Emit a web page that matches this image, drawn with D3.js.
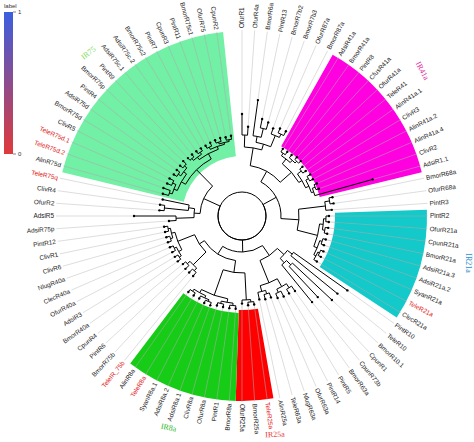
<!DOCTYPE html>
<html><head><meta charset="utf-8">
<script src="https://cdn.jsdelivr.net/npm/d3@7"></script>
<style>body{margin:0;background:#fff}</style></head>
<body><svg id="c" width="474" height="442"></svg>
<script>
// Tree topology (Newick, branch lengths read approx from picture)
const TOP = "((OfurR1:35,OfurR4a:14):20,((BmorR6a:60,(PintR13:15,BmorR7b2:12):15):10,(BmorR7b3:10,(OfurR87a:8,BmorR87a:8):6):20):10)";
const IR41A = "(((AdsiR41a:6,BmorR41a:6):5,(PintR8:6,(CfusR41a:5,OfurR41a:5):4):5):10,((TeleR41:6,AlinR41a.1:6):8,((ClivR3:6,AlinR41a.2:6):5,((AlinR41a.4:5,ClivR2:5):5,AdsiR1.1:100):4):6):6)";
const G21 = "((BmorR68a:6,OfurR68a:6):8,PintR3:10)";
const IR21A = "(((PintR2:5,OfurR21a:5):4,(CpunR21a:5,BmorR21a:5):4):6,((AdsiR21a.3:5,AdsiR21a.2:5):4,((SyanR21a:5,TeleR21a:5):3,ClecR21a:6):4):6)";
const LONG = "((PintR10:110,TeleR10:100):10,((BmorR10.1:90,CpunR1:70):10,CpunR73b:80):10)";
const IR63 = "(((BmorR63a:10,PintR5:8):8,(PintR14:10,OfurR63a:8):6):15,((NlugR63a:8,TeleR63a:8):6,AlinR25a:12):10)";
const IR25A = "((TeleR25a:5,BmorR25a:5):4,OfurR25a:6)";
const IR8A = "(((BmorR8a:5,PintR1:5):4,(OfurR8a:5,ClivR8a:5):4):6,(((AdsiR8a.1:5,AdsiR8a.2:5):3,SyanR8a.1:5):4,(TeleR8a:5,AlinR8a:5):4):6)";
const G40 = "(((TeleIR_75b:8,BmorR75b:8):6,(PintR6:8,CpunR4:6):6):30,(((BmorR40a:6,AdsiR3:6):4,(OfurR40a:6,ClecR40a:6):4):6,((NlugR40a:6,ClivR6:6):4,(ClivR1:6,PintR12:6):4):6):30)";
const G5 = "(AdsiR75p:12,AdsiR5:70)";
const G2 = "((OfurR2:8,ClivR4:8):40,TeleR75q:45)";
const IR75 = "((((AlinR75d:10,TeleR75d.2:12):5,(TeleR75d.1:8,ClivR5:8):6):6,((BmorR75d:6,AdsiR75d:6):5,(PintR4:6,BmorR75p:7):5):6):8,(((PintR9:5,AdsiR75c.1:5):4,(AdsiR75c.2:5,BmorR75c2:5):4):5,((PintR7:5,CpunR3:6):4,((PintR11:5,BmorR75c1:6):3,(OfurR75:5,CpunR2:6):3):3):5):10)";
const NEWICK = `(((${TOP}:30,${IR41A}:25):20,(${G21}:45,${IR21A}:35):30):25,((${LONG}:15,${IR63}:40):20,((${IR25A}:45,${IR8A}:45):20,${G40}:10):15):20,((${G5}:30,${G2}:10):10,${IR75}:38):30)`;

const redLabels = ["TeleR75q","TeleR75d.2","TeleR75d.1","TeleIR_75b","TeleR8a","TeleR25a","TeleR21a"];
const clades = [
  {name:"IR75", from:"AlinR75d", to:"CpunR2", inner:60, color:"#72f0a6"},
  {name:"IR41a", from:"AdsiR41a", to:"AdsiR1.1", inner:80, color:"#ff00e0"},
  {name:"IR21a", from:"PintR2", to:"ClecR21a", inner:93, color:"#13c9c9"},
  {name:"IR25a", from:"TeleR25a", to:"OfurR25a", inner:94, color:"#ff0000"},
  {name:"IR8a", from:"BmorR8a", to:"AlinR8a", inner:97, color:"#16cc16"}
];
const cladeLabelColors = {IR75:"#7ed957",IR41a:"#e0209a",IR21a:"#2a8fd0",IR25a:"#e83030",IR8a:"#22b822"};
const legendTicks = ["1","0"];

function parse(s){
  let i=0;
  function node(){
    const n={children:[]};
    if(s[i]==="("){ i++; n.children.push(node()); while(s[i]===","){i++; n.children.push(node());} i++; }
    let name=""; while(i<s.length && !":,()".includes(s[i])) name+=s[i++];
    n.name=name;
    if(s[i]===":"){ i++; let num=""; while(i<s.length && !",()".includes(s[i])) num+=s[i++]; n.len=+num; } else n.len=0;
    return n;
  }
  return node();
}
const tree = parse(NEWICK);
const root = d3.hierarchy(tree, d=>d.children.length?d.children:null);
const leaves = root.leaves();
const N = leaves.length;
const angle = d3.scaleLinear().domain([0,N+1]).range([0,2*Math.PI]);
leaves.forEach((l,i)=>l.a=angle(i));
root.eachAfter(n=>{ if(n.children){ n.a0=d3.min(n.children,c=>c.a); n.a1=d3.max(n.children,c=>c.a); n.a=(n.a0+n.a1)/2; }});
const r0=24;
root.eachBefore(n=>{ n.r = n.parent ? n.parent.r + n.data.len*0.6 : r0; });

const cx=242, cy=216, Rlab=188, Rout=185;
const svg=d3.select("#c");
const g=svg.append("g").attr("transform",`translate(${cx},${cy})`);
const pt=(a,r)=>[r*Math.sin(a), -r*Math.cos(a)];
const idx = name=>leaves.findIndex(l=>l.data.name===name);
const step = angle(1);

clades.forEach(c=>{
  const a0=angle(idx(c.from))-step/2, a1=angle(idx(c.to))+step/2;
  g.append("path").attr("d",d3.arc()({innerRadius:c.inner,outerRadius:Rout,startAngle:a0,endAngle:a1})).attr("fill",c.color);
  leaves.slice(idx(c.from),idx(c.to)+1).forEach(l=>{
    const [x1,y1]=pt(l.a,l.r),[x2,y2]=pt(l.a,Rout);
    g.append("line").attr("x1",x1).attr("y1",y1).attr("x2",x2).attr("y2",y2).attr("stroke","#000").attr("stroke-opacity",0.12).attr("stroke-width",0.6);
  });
});
leaves.forEach(l=>{
  const [x1,y1]=pt(l.a,l.r),[x2,y2]=pt(l.a,Rlab-2);
  g.append("line").attr("x1",x1).attr("y1",y1).attr("x2",x2).attr("y2",y2).attr("stroke","#bbb").attr("stroke-width",0.5);
});
root.descendants().forEach(n=>{
  if(n.children){
    const [x0,y0]=pt(n.a0,n.r),[x1,y1]=pt(n.a1,n.r);
    g.append("path").attr("d",`M${x0},${y0}A${n.r},${n.r} 0 ${n.a1-n.a0>Math.PI?1:0} 1 ${x1},${y1}`).attr("fill","none").attr("stroke","#000").attr("stroke-width",1);
  }
  if(n.parent){
    const [x0,y0]=pt(n.a,n.parent.r),[x1,y1]=pt(n.a,n.r);
    g.append("line").attr("x1",x0).attr("y1",y0).attr("x2",x1).attr("y2",y1).attr("stroke","#000").attr("stroke-width",1);
  }
});
g.append("circle").attr("r",r0).attr("fill","none").attr("stroke","#000").attr("stroke-width",1);
leaves.forEach(l=>{const [x,y]=pt(l.a,l.r); g.append("circle").attr("cx",x).attr("cy",y).attr("r",1.2).attr("fill","#000");});
leaves.forEach(l=>{
  const deg=l.a*180/Math.PI-90, left=l.a>Math.PI;
  g.append("text").attr("transform",`rotate(${deg}) translate(${Rlab},0) ${left?"rotate(180)":""}`)
   .attr("text-anchor",left?"end":"start").attr("dy","0.35em")
   .attr("font-family","Liberation Sans, Arial").attr("font-size",6.4)
   .attr("fill",redLabels.includes(l.data.name)?"#e02020":"#222").text(l.data.name);
});
const cl=[{n:"IR75",x:90,y:55,r:-38},{n:"IR41a",x:420,y:72,r:62},{n:"IR21a",x:466,y:263,r:90},{n:"IR8a",x:168,y:430,r:12},{n:"IR25a",x:275,y:437,r:-2}];
cl.forEach(c=>svg.append("text").attr("transform",`translate(${c.x},${c.y}) rotate(${c.r})`).attr("text-anchor","middle")
  .attr("font-family","Liberation Serif").attr("font-size",8).attr("fill",cladeLabelColors[c.n]).text(c.n));
const defs=svg.append("defs"), gr=defs.append("linearGradient").attr("id","lg").attr("x1",0).attr("y1",0).attr("x2",0).attr("y2",1);
gr.append("stop").attr("offset",0).attr("stop-color","#3a5fe0");
gr.append("stop").attr("offset",1).attr("stop-color","#e03a3a");
svg.append("text").attr("x",4).attr("y",8).attr("font-family","Liberation Sans").attr("font-size",6).attr("fill","#333").text("label");
svg.append("rect").attr("x",4).attr("y",12).attr("width",9).attr("height",142).attr("fill","url(#lg)");
const ly=d3.scaleLinear().domain([1,0]).range([12,154]);
legendTicks.forEach(t=>{svg.append("line").attr("x1",13).attr("x2",16).attr("y1",ly(+t)).attr("y2",ly(+t)).attr("stroke","#333").attr("stroke-width",0.6);
  svg.append("text").attr("x",18).attr("y",ly(+t)+2).attr("font-family","Liberation Sans").attr("font-size",6).attr("fill","#333").text(t);});
</script></body></html>
